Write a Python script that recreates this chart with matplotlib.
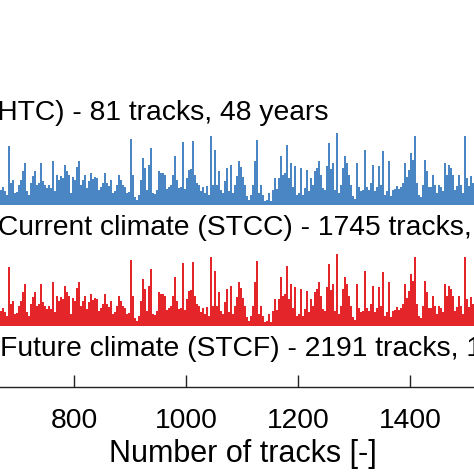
import numpy as np
import matplotlib
matplotlib.use('Agg')
import matplotlib.pyplot as plt

plt.rcParams['font.family'] = ['Liberation Sans', 'DejaVu Sans']

# bar heights, left to right (same profile in both panels)
counts = [
    15, 18, 14, 10, 59, 22, 25, 12, 13, 20, 25, 34, 42, 14, 10, 22, 29, 34, 20, 22,
    42, 24, 20, 17, 20, 17, 44, 14, 30, 25, 29, 27, 40, 34, 30, 12, 28, 25, 38, 44,
    20, 25, 30, 17, 24, 32, 26, 28, 27, 15, 18, 22, 32, 22, 19, 25, 12, 14, 20, 30,
    25, 20, 18, 12, 13, 66, 30, 8, 5, 10, 25, 47, 37, 15, 40, 57, 12, 11, 15, 34,
    32, 32, 30, 16, 18, 20, 30, 49, 25, 17, 18, 63, 16, 27, 35, 36, 64, 30, 22, 20,
    14, 18, 12, 19, 10, 69, 20, 55, 20, 34, 15, 12, 24, 37, 14, 40, 12, 20, 29, 44,
    38, 28, 20, 9, 5, 10, 20, 44, 65, 12, 20, 10, 4, 5, 12, 4, 15, 27, 16, 27,
    49, 30, 32, 60, 27, 42, 18, 39, 10, 12, 37, 10, 17, 35, 14, 27, 20, 34, 37, 44,
    30, 17, 15, 39, 62, 36, 42, 15, 72, 12, 20, 37, 49, 42, 30, 20, 9, 6, 42, 18,
    14, 15, 55, 18, 15, 22, 40, 14, 18, 39, 20, 54, 10, 14, 44, 9, 15, 16, 19, 16,
    18, 22, 42, 28, 35, 52, 45, 69, 22, 10, 8, 20, 45, 34, 18, 18, 30, 20, 12, 20,
    18, 14, 42, 30, 40, 37, 30, 15, 19, 30, 20, 12, 69, 27, 19, 29, 22, 34, 27, 24,
]
htc_counts = counts
stcc_counts = counts

x_start = 668
bin_width = 3.57
xticks = [800, 1000, 1200, 1400]

labels = [
    'Historical (HTC) - 81 tracks, 48 years',
    'Current climate (STCC) - 1745 tracks, 1000 years',
    'Future climate (STCF) - 2191 tracks, 1000 years',
]

blue = '#4a86c4'
red = '#e4262b'
fs = 20.3

x = x_start + bin_width * np.arange(len(counts)) + bin_width / 2
xlim = (668, 1514)

fig = plt.figure(figsize=(4.74, 4.74), dpi=100)

ax1 = fig.add_axes([0, 269 / 474, 1, 72 / 474])
ax1.bar(x, htc_counts, width=bin_width * 0.85, color=blue, linewidth=0)
ax2 = fig.add_axes([0, 148 / 474, 1, 72 / 474])
ax2.bar(x, stcc_counts, width=bin_width * 0.85, color=red, linewidth=0)
for ax in (ax1, ax2):
    ax.set_xlim(xlim)
    ax.set_ylim(0, 72)
    ax.axis('off')

ax3 = fig.add_axes([0, 87 / 474, 1, 0.05])
ax3.set_xlim(xlim)
ax3.set_yticks([])
for s in ('top', 'left', 'right'):
    ax3.spines[s].set_visible(False)
ax3.spines['bottom'].set_linewidth(1.0)
ax3.spines['bottom'].set_color('#222222')
ax3.patch.set_alpha(0)
ax3.set_xticks(xticks)
ax3.tick_params(axis='x', direction='in', length=9, width=1.0, color='#222222',
                labelsize=fs, pad=15)
ax3.set_xlabel('Number of tracks [-]', fontsize=22)
ax3.xaxis.set_label_coords(243 / 474, -2.2)

fig.text(328 / 474, (474 - 120) / 474, labels[0], ha='right', va='baseline', fontsize=fs)
fig.text(-2 / 474, (474 - 235) / 474, labels[1], ha='left', va='baseline', fontsize=fs)
fig.text(0 / 474, (474 - 356) / 474, labels[2], ha='left', va='baseline', fontsize=fs)

fig.savefig('out.png', dpi=100)
